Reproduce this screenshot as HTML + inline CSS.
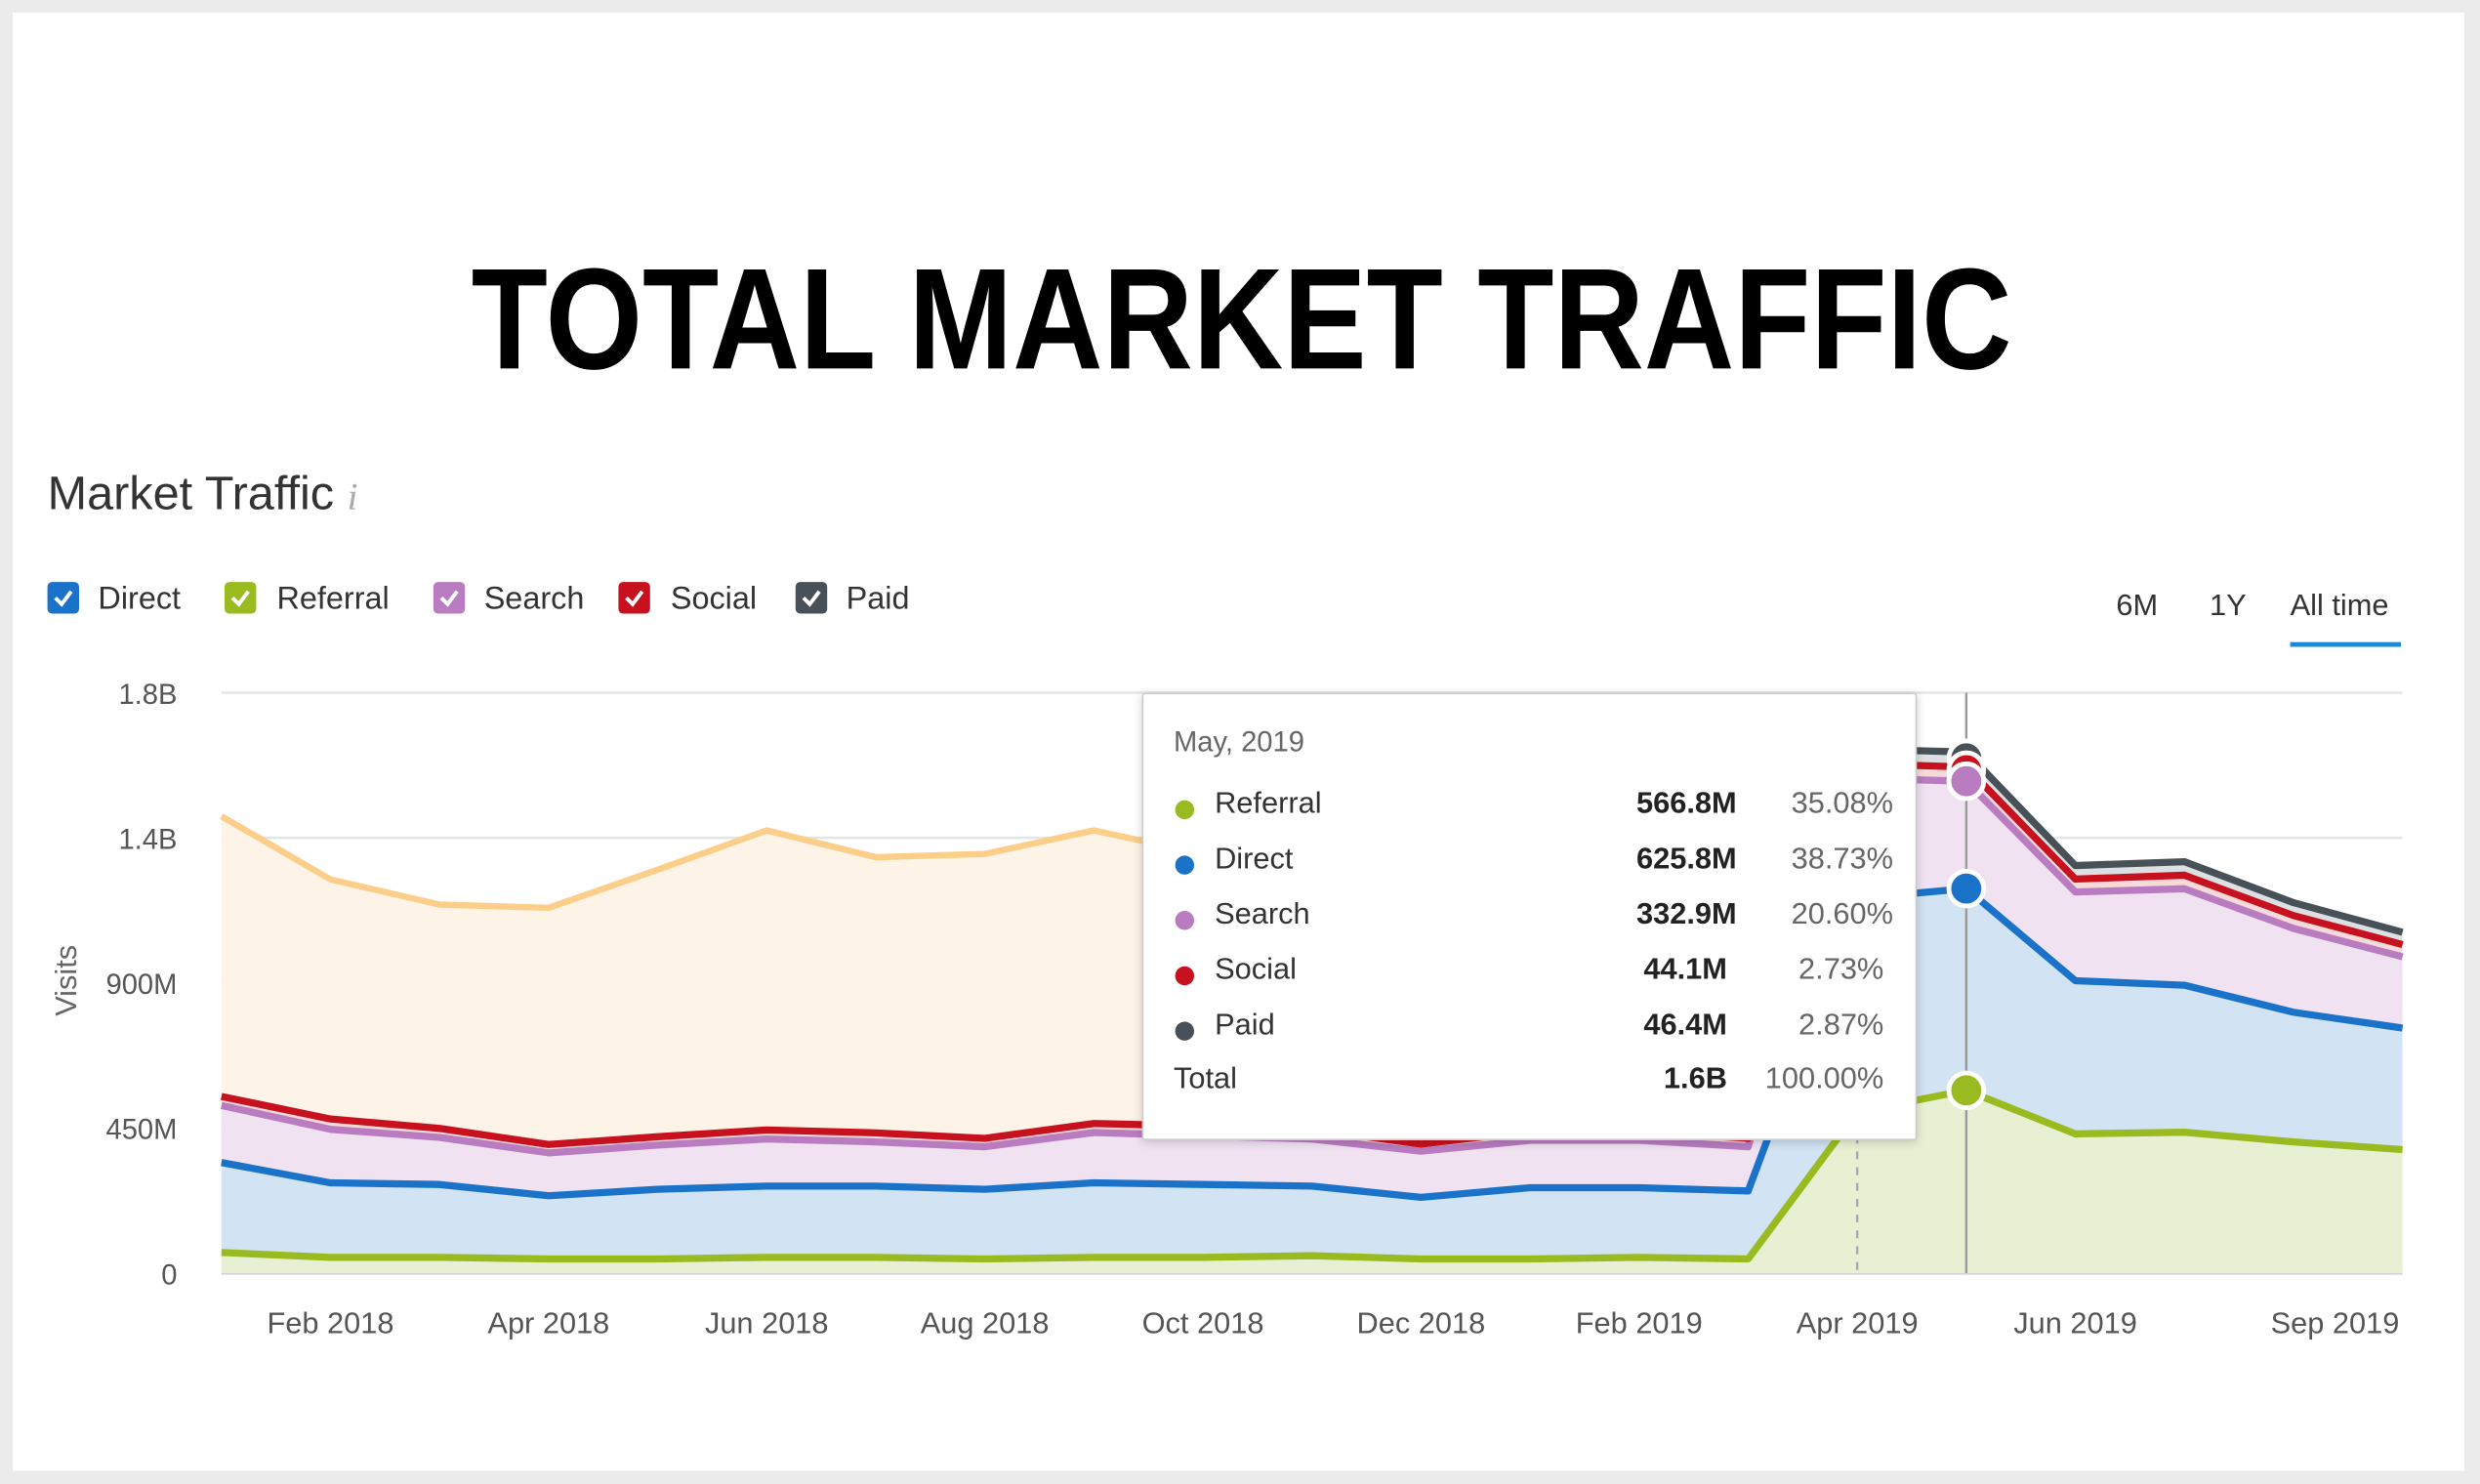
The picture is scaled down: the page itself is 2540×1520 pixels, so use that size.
<!DOCTYPE html>
<html><head><meta charset="utf-8">
<style>
html,body{margin:0;padding:0;width:2540px;height:1520px;overflow:hidden;background:#ebebeb;}
#wrap{position:absolute;left:0;top:0;width:1568px;height:938px;transform:scale(1.6199);transform-origin:0 0;font-family:"Liberation Sans",sans-serif;}
#card{position:absolute;left:8px;top:8px;width:1550px;height:922px;background:#fff;}
.lg{position:absolute;top:368px;font-size:20px;color:#333;}
.cb{position:absolute;top:368px;width:20px;height:20px;border-radius:3px;}
.cb svg{position:absolute;left:0;top:0}
#tip{position:absolute;left:722px;top:438px;width:488px;height:281px;background:#fff;border:1px solid #ccc;box-shadow:0 1px 6px rgba(0,0,0,0.18);border-radius:2px;}
#tip div{position:absolute;font-size:19px;color:#333;white-space:nowrap;}
</style></head><body>
<div id="wrap">
<div id="card"></div>
<svg style="position:absolute;left:0;top:0" width="1568" height="938">
<text x="298" y="233" textLength="974" lengthAdjust="spacingAndGlyphs" font-family="Liberation Sans, sans-serif" font-weight="bold" font-size="91" fill="#000">TOTAL MARKET TRAFFIC</text>
</svg>
<div style="position:absolute;left:30px;top:296px;font-size:30px;color:#333;">Market Traffic <span style="font-family:'Liberation Serif',serif;font-style:italic;color:#aaa;font-size:24px">i</span></div>

<div class="cb" style="left:30px;background:#1a73c9"><svg width="20" height="20"><path d="M5 10l4 4 6-8" stroke="#fff" stroke-width="2.4" fill="none"/></svg></div>
<div class="lg" style="left:62px">Direct</div>
<div class="cb" style="left:142px;background:#99bb20"><svg width="20" height="20"><path d="M5 10l4 4 6-8" stroke="#fff" stroke-width="2.4" fill="none"/></svg></div>
<div class="lg" style="left:175px">Referral</div>
<div class="cb" style="left:274px;background:#b97cc0"><svg width="20" height="20"><path d="M5 10l4 4 6-8" stroke="#fff" stroke-width="2.4" fill="none"/></svg></div>
<div class="lg" style="left:306px">Search</div>
<div class="cb" style="left:391px;background:#c8111e"><svg width="20" height="20"><path d="M5 10l4 4 6-8" stroke="#fff" stroke-width="2.4" fill="none"/></svg></div>
<div class="lg" style="left:424px">Social</div>
<div class="cb" style="left:503px;background:#485157"><svg width="20" height="20"><path d="M5 10l4 4 6-8" stroke="#fff" stroke-width="2.4" fill="none"/></svg></div>
<div class="lg" style="left:535px">Paid</div>

<div style="position:absolute;left:1338px;top:373px;font-size:19px;color:#333">6M</div>
<div style="position:absolute;left:1397px;top:373px;font-size:19px;color:#333">1Y</div>
<div style="position:absolute;left:1448px;top:373px;font-size:19px;color:#333">All time</div>
<div style="position:absolute;left:1448px;top:406px;width:70px;height:3px;background:#1a8ad9"></div>

<svg id="chart" style="position:absolute;left:0;top:0" width="1568" height="938"></svg>

<div id="tip">
<div style="left:19px;top:20px;color:#666;font-size:18px">May, 2019</div>
</div>
</div>
<script>
const months=["Jan 2018","Feb 2018","Mar 2018","Apr 2018","May 2018","Jun 2018","Jul 2018","Aug 2018","Sep 2018","Oct 2018","Nov 2018","Dec 2018","Jan 2019","Feb 2019","Mar 2019","Apr 2019","May 2019","Jun 2019","Jul 2019","Aug 2019","Sep 2019"];
const xTickLabels=["Feb 2018","Apr 2018","Jun 2018","Aug 2018","Oct 2018","Dec 2018","Feb 2019","Apr 2019","Jun 2019","Sep 2019"];
const xTickIndex=[1,3,5,7,9,11,13,15,17,20];
const yTicks=[0,450,900,1350,1800];
const yTickLabels=["0","450M","900M","1.4B","1.8B"];
const referral=[64,49,49,44,44,49,49,44,49,49,54,44,44,49,44,500,566.8,432,437,407,383];
const direct=[279,231,226,196,216,221,221,216,231,226,216,191,221,216,211,662,625.8,475,456,402,377];
const search=[177,166,146,133,137,146,137,132,156,151,146,143,147,147,137,373,332.9,275,299,260,221];
const social=[28,32,28,26,26,28,28,26,28,30,30,22,28,28,26,45,44.1,40,42,40,38];
const paid=[null,null,null,null,null,null,null,null,null,null,null,null,null,null,null,45,46.4,42,42,40,38];
const other=[1417,1221,1143,1133,1251,1373,1290,1300,1373,1300,1275,1202,1251,1300,1349,1625];
const tipIndex=16;

const NS="http://www.w3.org/2000/svg";
const svg=document.getElementById('chart');
const X0=140,X1=1519,Y0=805,YT=438,VMAX=1800;
function x(i){return X0+i*(X1-X0)/(months.length-1);}
function y(v){return Y0-v*(Y0-YT)/VMAX;}
function mk(tag,attrs){const e=document.createElementNS(NS,tag);for(const k in attrs)e.setAttribute(k,attrs[k]);svg.appendChild(e);return e;}

yTicks.forEach((t,k)=>{
  const g=mk('line',{x1:X0,x2:X1,y1:y(t),y2:y(t),stroke:t===0?'#cfd4d8':'#e3e6e8','stroke-width':t===0?2:1.5});
  
  
  const tx=mk('text',{x:112,y:y(t)+7,'text-anchor':'end','font-size':18,fill:'#555','font-family':'Liberation Sans, sans-serif'});
  tx.textContent=yTickLabels[k];
  
  
});
const yl=mk('text',{x:0,y:0,transform:'translate(48,620) rotate(-90)','text-anchor':'middle','font-size':19,fill:'#666','font-family':'Liberation Sans, sans-serif'});
yl.textContent='Visits';


xTickIndex.forEach((idx,k)=>{
  const last=k===xTickIndex.length-1;
  const tx=mk('text',{x:last?X1-2:x(idx),y:843,'text-anchor':last?'end':'middle','font-size':19,fill:'#555','font-family':'Liberation Sans, sans-serif'});
  tx.textContent=xTickLabels[k];
  
  
});

let od='M'+x(0)+','+y(0);
other.forEach((v,i)=>od+=' L'+x(i)+','+y(v));
od+=' L'+x(other.length-1)+','+y(0)+'Z';
const oa=mk('path',{d:od,fill:'#fdf3e6'});


const ol=mk('polyline',{points:other.map((v,i)=>x(i)+','+y(v)).join(' '),fill:'none',stroke:'#fbcf8a','stroke-width':4,'stroke-linejoin':'round'});



const series=[
 {name:'referral',vals:referral,line:'#99bb20',fill:'#e8f0d4'},
 {name:'direct',vals:direct,line:'#1a73c9',fill:'#d2e3f3'},
 {name:'search',vals:search,line:'#b97cc0',fill:'#f0e2f1'},
 {name:'social',vals:social,line:'#c8111e',fill:'#f6dada'},
 {name:'paid',vals:paid,line:'#485157',fill:'#dde0e2'}
];
let base=months.map(()=>0);
series.forEach(s=>{
  const top=base.map((b,i)=>b+(s.vals[i]==null?0:s.vals[i]));
  s.top=top;s.base=base.slice();
  base=top;
});
series.forEach(s=>{
  let d='M'+x(0)+','+y(s.top[0]);
  for(let i=1;i<months.length;i++)d+=' L'+x(i)+','+y(s.top[i]);
  for(let i=months.length-1;i>=0;i--)d+=' L'+x(i)+','+y(s.base[i]);
  const a=mk('path',{d:d+'Z',fill:s.fill});
  
  
});
series.forEach(s=>{
  const pts=[];
  s.top.forEach((v,i)=>{if(s.vals[i]!=null)pts.push(x(i)+','+y(v));});
  const l=mk('polyline',{points:pts.join(' '),fill:'none',stroke:s.line,'stroke-width':4.5,'stroke-linejoin':'round'});
  
  
});
const dl=mk('line',{x1:x(15),x2:x(15),y1:YT,y2:Y0,stroke:'#aaa','stroke-width':1.5,'stroke-dasharray':'5,5'});


const cl=mk('line',{x1:x(tipIndex),x2:x(tipIndex),y1:YT,y2:Y0,stroke:'#9a9a9a','stroke-width':1.5});


[4,3,2,1,0].forEach(k=>{
  const s=series[k];
  const c=mk('circle',{cx:x(tipIndex),cy:y(s.top[tipIndex])+(k===4?4:k===3?2:0),r:11,fill:s.line,stroke:'#fff','stroke-width':3});
  
  
});

const tip=document.getElementById('tip');
const rows=[['Referral','#99bb20',referral[tipIndex],'566.8M','35.08%'],['Direct','#1a73c9',direct[tipIndex],'625.8M','38.73%'],['Search','#b97cc0',search[tipIndex],'332.9M','20.60%'],['Social','#c8111e',social[tipIndex],'44.1M','2.73%'],['Paid','#485157',paid[tipIndex],'46.4M','2.87%']];
rows.forEach((r,k)=>{
  const top=59+k*35;
  const dot=document.createElement('div');
  dot.style.cssText='left:20px;top:'+(top+8)+'px;width:12px;height:12px;border-radius:6px;background:'+r[1];
  
  
  tip.appendChild(dot);
  const lb=document.createElement('div');
  lb.style.cssText='left:45px;top:'+top+'px';
  lb.textContent=r[0];
  
  
  tip.appendChild(lb);
  const vr=(k<3?1098:1092)-722;
  const v=document.createElement('div');
  v.style.cssText='right:'+(489-vr)+'px;top:'+top+'px;font-weight:bold;color:#222';
  v.textContent=r[3];
  
  
  tip.appendChild(v);
  const pr=(k<3?1197:1191)-722;
  const p=document.createElement('div');
  p.style.cssText='right:'+(489-pr)+'px;top:'+top+'px;color:#666';
  p.textContent=r[4];
  
  
  tip.appendChild(p);
});
const t1=document.createElement('div');t1.style.cssText='left:19px;top:233px';t1.textContent='Total';


tip.appendChild(t1);
const t2=document.createElement('div');t2.style.cssText='right:'+(489-370)+'px;top:233px;font-weight:bold;color:#222';t2.textContent='1.6B';


tip.appendChild(t2);
const t3=document.createElement('div');t3.style.cssText='right:'+(489-469)+'px;top:233px;color:#666';t3.textContent='100.00%';


tip.appendChild(t3);
</script>
</body></html>
